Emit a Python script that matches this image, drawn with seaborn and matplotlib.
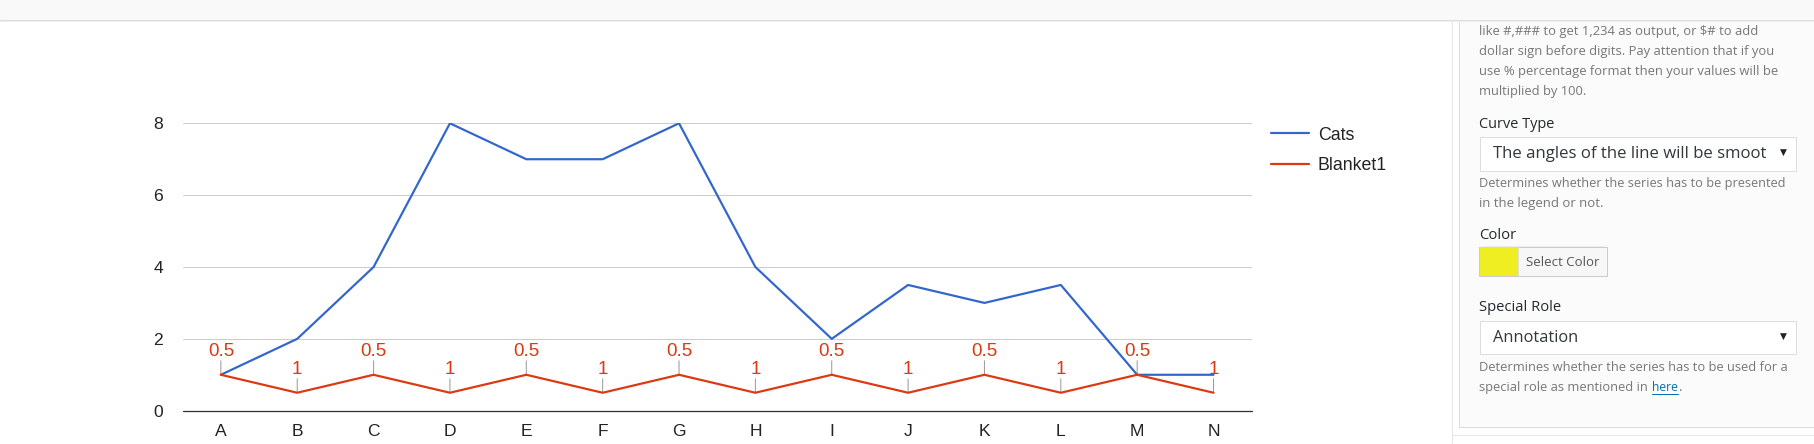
import numpy as np
import pandas as pd
import matplotlib
matplotlib.use("Agg")
import matplotlib.pyplot as plt
import seaborn as sns
from matplotlib.patches import Rectangle, FancyBboxPatch
from matplotlib.lines import Line2D

# ---------------- data ----------------
categories = list("ABCDEFGHIJKLMN")
cats = [1, 2, 4, 8, 7, 7, 8, 4, 2, 3.5, 3, 3.5, 1, 1]
blanket1 = [1, 0.5, 1, 0.5, 1, 0.5, 1, 0.5, 1, 0.5, 1, 0.5, 1, 0.5]
annotations = ["0.5", "1", "0.5", "1", "0.5", "1", "0.5", "1", "0.5", "1", "0.5", "1", "0.5", "1"]
y_ticks = [0, 2, 4, 6, 8]
series_names = ["Cats", "Blanket1"]
series_colors = ["#3366cc", "#dc3912"]

# ---------------- figure ----------------
W, H = 1815, 444
DPI = 100
sns.set_theme(style="white")
plt.rcParams['font.family'] = ['Liberation Sans', 'DejaVu Sans']

fig = plt.figure(figsize=(W / DPI, H / DPI), dpi=DPI)
fig.patch.set_facecolor("white")
PT = 72.0 / DPI  # points per pixel


def fx(px):
    return px / W


def fy(py):
    return 1 - py / H


# ---------------- chart ----------------
left, right, top, bottom = 182.7, 1251.7, 123.3, 410.7
ax = fig.add_axes([fx(left), fy(bottom), (right - left) / W, (bottom - top) / H])
ax.set_facecolor("white")

df = pd.DataFrame({
    "category": categories * 2,
    "value": cats + blanket1,
    "series": [series_names[0]] * len(categories) + [series_names[1]] * len(categories),
})
sns.lineplot(data=df, x="category", y="value", hue="series",
             palette=dict(zip(series_names, series_colors)),
             linewidth=2.2 * PT, ax=ax, legend=False, sort=False,
             estimator=None, zorder=3)

ax.set_xlim(-0.5, len(categories) - 0.5)
ax.set_ylim(0, 8)
ax.set_yticks(y_ticks)
ax.set_yticklabels([str(t) for t in y_ticks])
ax.set_xlabel("")
ax.set_ylabel("")
ax.yaxis.grid(True, color="#cccccc", lw=1 * PT)
ax.xaxis.grid(False)
for s in ax.spines.values():
    s.set_visible(False)
ax.axhline(0, color="#333333", lw=1.3 * PT, zorder=4, clip_on=False)
TICK_FS = 12.6
ax.tick_params(axis="y", length=0, pad=14.0, labelsize=TICK_FS, labelcolor="#222222")
ax.tick_params(axis="x", length=0, pad=9.6, labelsize=TICK_FS, labelcolor="#222222")

# annotations with stems
for i, (v, lab) in enumerate(zip(blanket1, annotations)):
    ax.annotate("", xy=(i, v), xytext=(0, 14 * PT), textcoords="offset points",
                arrowprops=dict(arrowstyle="-", color="#999999", lw=1 * PT,
                                shrinkA=0, shrinkB=0), zorder=2)
    ax.annotate(lab, xy=(i, v), xytext=(0, 19 * PT), textcoords="offset points",
                ha="center", va="baseline", color=series_colors[1],
                fontsize=13.6, zorder=5)

# legend
handles = [Line2D([], [], color=c, lw=2.2 * PT) for c in series_colors]
leg = fig.legend(handles, series_names, loc="upper left",
                 bbox_to_anchor=(fx(1270.7), fy(126.5)), frameon=False,
                 borderpad=0, borderaxespad=0, handlelength=2.15,
                 handletextpad=0.5, labelspacing=0.78, fontsize=12.8)
for t in leg.get_texts():
    t.set_color("#222222")

# ---------------- page / side panel ----------------
def frect(x0, y0, x1, y1, z=0, **kw):
    r = Rectangle((fx(x0), fy(y1)), (x1 - x0) / W, (y1 - y0) / H,
                  transform=fig.transFigure, zorder=z, **kw)
    fig.add_artist(r)
    return r


def fline(xs, ys, z=1, **kw):
    l = Line2D([fx(x) for x in xs], [fy(y) for y in ys],
               transform=fig.transFigure, zorder=z, **kw)
    fig.add_artist(l)
    return l


renderer = fig.canvas.get_renderer()


def ftext(x, y, s, target=None, size=10, family="Open Sans", **kw):
    t = fig.text(fx(x), fy(y), s, fontsize=size, family=family, zorder=5, **kw)
    if target is not None:
        w = t.get_window_extent(renderer=renderer).width
        t.set_fontsize(size * target / w)
    return t


# panel background and borders
frect(1459.3, 10, 1814.5, 427.3, z=0.5, fc="#fbfbfb", ec="#dddddd", lw=1 * PT)
fline([1451.7, 1451.7], [20, 444], color="#e5e5e5", lw=1 * PT)
fline([1451.7, W], [435.3, 435.3], color="#e5e5e5", lw=1 * PT)
# top bar
frect(0, 0, W, 20, z=1, fc="#f9f9f9", ec="none")
fline([0, W], [20.5, 20.5], z=1.1, color="#dddddd", lw=1 * PT)
fline([0, W], [21.5, 21.5], z=1.1, color="#eeeeee", lw=1 * PT)

DESC = "#777777"
HEAD = "#23282d"
desc_lines = [
    (31.7, "like #,### to get 1,234 as output, or \\$# to add", 279),
    (51.7, "dollar sign before digits. Pay attention that if you", 295),
    (71.7, "use % percentage format then your values will be", 298),
    (91.7, "multiplied by 100.", 108),
    (183.3, "Determines whether the series has to be presented", 307),
    (203.3, "in the legend or not.", 123),
    (367.3, "Determines whether the series has to be used for a", 307),
]
for y, s, tw in desc_lines:
    ftext(1479, y, s, target=tw, size=10, va="center", color=DESC)

t1 = ftext(1479, 387.3, "special role as mentioned in", target=169, size=10,
           va="center", color=DESC)
ftext(1652.3, 387.3, "here", target=26, size=10, va="center", color="#0073aa")
fline([1652.3, 1678.3], [393.5, 393.5], z=5, color="#0073aa", lw=1 * PT)
ftext(1678.8, 387.3, ".", size=t1.get_fontsize(), va="center", color=DESC)

# headings
ftext(1479, 124, "Curve Type", target=75, size=11, va="center", color=HEAD)
ftext(1479, 235.7, "Color", target=37, size=11, va="center", color=HEAD)
ftext(1479, 307.3, "Special Role", target=82, size=11, va="center", color=HEAD)

# select boxes
for (y0, y1, label, tw) in [(136.7, 170.7, "The angles of the line will be smoot", 273),
                            (320.7, 354.3, "Annotation", 85)]:
    frect(1480, y0, 1795.7, y1, z=1, fc="white", ec="#dddddd", lw=1 * PT)
    ftext(1492.7, (y0 + y1) / 2, label, target=tw, size=12, va="center", color="#32373c")
    ftext(1783, (y0 + y1) / 2 - 1.5, "\u25BC", size=6.5, family="DejaVu Sans",
          ha="center", va="center", color="#222222")

# colour button
btn = FancyBboxPatch((fx(1479.3), fy(277)), (1606.7 - 1479.3) / W, (277 - 246.7) / H,
                     boxstyle="round,pad=0,rounding_size=0.002",
                     transform=fig.transFigure, fc="#cccccc", ec="none", zorder=1)
fig.add_artist(btn)
frect(1479.3, 246.7, 1606.7, 276, z=1.1, fc="#f7f7f7", ec="#cccccc", lw=1 * PT)
frect(1479.8, 247.2, 1517.7, 275.5, z=1.2, fc="#eeee22", ec="none")
fline([1517.7, 1517.7], [247.2, 275.5], z=1.3, color="#dddddd", lw=1 * PT)
ftext(1562.3, 262.3, "Select Color", target=72.7, size=10, ha="center", va="center",
      color="#555555")

fig.savefig("out.png", dpi=DPI, facecolor="white")
